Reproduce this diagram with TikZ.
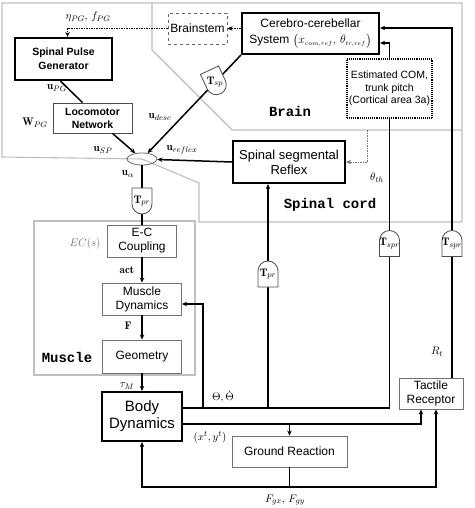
\documentclass[tikz,border=0pt]{standalone}
\usepackage{amsmath}
\usepackage{fontspec}
\setsansfont{Liberation Sans}
\setmonofont{Liberation Mono}
\usetikzlibrary{arrows.meta,shapes.geometric}

\begin{document}
\begin{tikzpicture}[
  x=1pt,y=-1pt,
  line width=0.8pt,
  % plain blocks, and the heavier ones with a thick frame
  box/.style={draw=black!55,line width=0.9pt,fill=white,align=center,inner sep=0pt,
    font=\sffamily\fontsize{12}{14}\selectfont},
  heavy/.style={box,draw=black,line width=2.2pt},
  sig/.style={line width=1.5pt},
  arr/.style={sig,-{Stealth[length=5pt,width=4.5pt]}},
  region/.style={draw=black!25,line width=1.1pt},
  zone/.style={font=\ttfamily\bfseries\fontsize{14}{14}\selectfont},
  lbl/.style={font=\fontsize{11}{11}\selectfont,inner sep=1pt},
  % transmission delay: flat on one side, round on the other
  gate/.pic={
    \draw[fill=white,draw=black!70,line width=0.8pt]
      (-10pt,-13pt) -- (-10pt,3pt) arc[start angle=180,end angle=0,radius=10pt]
      -- (10pt,-13pt) -- cycle;
    \node[font=\fontsize{11}{11}\selectfont,inner sep=0pt] (-t) at (0,0) {\tikzpictext};
  },
]
\useasboundingbox (0,0) rectangle (474,508);

%--- regions -----------------------------------------------------------------
\draw[region] (2,3) -- (462,3) -- (462,222) -- (199,222) -- (199,183)
  -- (142,159) -- (2,157) -- cycle;
\draw[region] (152,3) -- (152,50) -- (232,130) -- (462,130);
\draw[region] (34,221) rectangle (195,375);

\node[zone] (brainlbl) at (290,111) {Brain};
\node[zone] (cordlbl) at (330,205) {Spinal cord};
\node[zone] (musclelbl) at (67,357) {Muscle};

%--- blocks ------------------------------------------------------------------
\node[heavy,minimum width=97pt,minimum height=42pt,
  font=\sffamily\bfseries\fontsize{10.5}{14}\selectfont]
  (spg) at (63.5,59) {Spinal Pulse\\Generator};
\node[box,draw=black!70,minimum width=79pt,minimum height=30pt,
  font=\sffamily\bfseries\fontsize{10.5}{13}\selectfont]
  (loco) at (92.5,118) {Locomotor\\Network};
\node[box,dashed,draw=black!60,minimum width=59pt,minimum height=31pt]
  (brainstem) at (197.5,28.5) {Brainstem};
\node[heavy,minimum width=137pt,minimum height=41pt,font=\sffamily\fontsize{12}{16}\selectfont]
  (cereb) at (310.5,33.5)
  {Cerebro-cerebellar\\System $\bigl(x_{\scriptscriptstyle com,ref},\,\theta_{\scriptscriptstyle tr,ref}\bigr)$};
\node[box,densely dotted,draw=black,line width=1.6pt,minimum width=85pt,minimum height=59pt,
  font=\sffamily\fontsize{10.5}{12.5}\selectfont]
  (estcom) at (389.5,88.5) {Estimated COM,\\trunk pitch\\(Cortical area 3a)};
\node[heavy,minimum width=112pt,minimum height=42pt,font=\sffamily\fontsize{13}{15}\selectfont]
  (reflex) at (289,162) {Spinal segmental\\Reflex};
\node[ellipse,draw=black!60,line width=0.8pt,minimum width=30pt,minimum height=12pt,inner sep=0pt]
  (sum) at (142,159) {};

\node[box,minimum width=69pt,minimum height=32pt] (ecc) at (142,241) {E-C\\Coupling};
\node[box,minimum width=79pt,minimum height=32pt] (mdyn) at (142,299) {Muscle\\Dynamics};
\node[box,minimum width=79pt,minimum height=33pt] (geom) at (142,356.5) {Geometry};
\node[heavy,minimum width=80pt,minimum height=49pt,font=\sffamily\fontsize{15}{17}\selectfont]
  (body) at (142,416.5) {Body\\Dynamics};
\node[box,minimum width=115pt,minimum height=31pt] (ground) at (289.5,451.5) {Ground Reaction};
\node[box,minimum width=64pt,minimum height=31pt] (tactile) at (431,393.5) {Tactile\\Receptor};

%--- descending path ---------------------------------------------------------
\draw[arr,densely dotted,line width=1.2pt] (brainstem.west) -| ([xshift=4pt]spg.north);
\draw[arr,densely dotted,line width=1.2pt] (brainstem.east -| cereb.west) -- (brainstem.east);
\draw[sig] ([xshift=-3pt]spg.south) -- ([xshift=-10pt]loco.north);
\draw[arr] ([xshift=20pt]loco.south) -- (sum);
\draw[arr] (cereb.south west) -- (sum);
\draw[arr] (reflex.west) -- (sum);
\draw[sig] (sum) -- (ecc);
\draw[arr] (ecc) -- (mdyn);
\draw[arr] (mdyn) -- (geom);
\draw[arr] (geom) -- (body);

%--- feedback from the body --------------------------------------------------
\coordinate (tap1) at (203,408);
\coordinate (tap2) at (268,408);
\coordinate (tap3) at (289.5,424);
\coordinate (gnd) at (289.5,487);
\coordinate (thsrc) at (367,130);

\draw[sig] ([yshift=8.5pt]body.east) -| (estcom.south);
\draw[arr] (estcom.north) |- ([yshift=-9.5pt]cereb.east);
\draw[arr] (tap1) |- ([yshift=-5pt]mdyn.east);
\draw[arr] (tap2) -- (tap2 |- reflex.south);
\draw[arr] ([yshift=-7.5pt]body.east) -| ([xshift=-10pt]tactile.south);
\draw[arr] (tap3) -- (ground.north);
\draw[sig] (ground.south) -- (gnd);
\draw[arr] (gnd) -| (body.south);
\draw[arr] (gnd) -| ([xshift=5pt]tactile.south);
\draw[arr] ([xshift=21pt]tactile.north) |- ([yshift=5.5pt]cereb.east);
\draw[arr,densely dotted,draw=black!55,line width=1pt] (thsrc) |- (reflex.east);

%--- delays ------------------------------------------------------------------
\pic[rotate=205,pic text={$\mathbf{T}_{sp}$}] (tsp) at (215,82) {gate};
\pic[rotate=180,pic text={$\mathbf{T}_{pr}$}] (tpra) at (142,201) {gate};
\pic[pic text={$\mathbf{T}_{pr}$}] (tprb) at (268,274) {gate};
\pic[pic text={$\mathbf{T}_{spr}$}] (tspra) at (389.5,243.5) {gate};
\pic[pic text={$\mathbf{T}_{spr}$}] (tsprb) at (452,243.5) {gate};

%--- signal names ------------------------------------------------------------
\node[lbl] (eta) at (88,17) {$\eta_{PG},\,f_{PG}$};
\node[lbl] (upg) at (57,88) {$\mathbf{u}_{PG}$};
\node[lbl] (wpg) at (35,123) {$\mathbf{W}_{PG}$};
\node[lbl] (usp) at (103,150) {$\mathbf{u}_{SP}$};
\node[lbl] (udesc) at (160,117) {$\mathbf{u}_{desc}$};
\node[lbl] (uref) at (182,150) {$\mathbf{u}_{reflex}$};
\node[lbl] (ualpha) at (128,174) {$\mathbf{u}_{\alpha}$};
\node[lbl,text=black!55] (ecs) at (85,244) {$EC(s)$};
\node[lbl] (act) at (127,270) {$\mathbf{act}$};
\node[lbl] (force) at (128,326) {$\mathbf{F}$};
\node[lbl] (taum) at (127,386) {$\tau_{M}$};
\node[lbl] (theta) at (223,397) {$\Theta,\dot{\Theta}$};
\node[lbl] (xy) at (210,437) {$(x^t,y^t)$};
\node[lbl] (thth) at (377,178) {$\theta_{th}$};
\node[lbl] (rt) at (437,352) {$R_t$};
\node[lbl] (fg) at (285,500) {$F_{gx},\,F_{gy}$};

\end{tikzpicture}
\end{document}
